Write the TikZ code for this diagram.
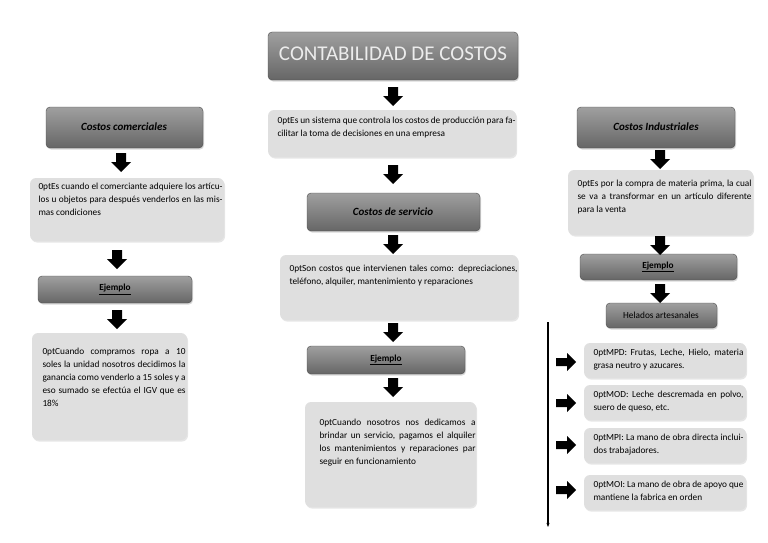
\documentclass[tikz,border=0pt]{standalone}
\usepackage{fontspec}
\setmainfont{Carlito}
\usetikzlibrary{shadows,arrows.meta}
\begin{document}
\begin{tikzpicture}[x=1pt,y=-1pt,
 dark/.style={draw=black!70,rounded corners=4pt,top color=gray!75,bottom color=gray!80!black,drop shadow={opacity=0.3,shadow xshift=1pt,shadow yshift=-1.5pt}},
 light/.style={rounded corners=6pt,fill=gray!25,drop shadow={opacity=0.2,shadow xshift=1pt,shadow yshift=-1.5pt}},
 txt/.style={font=\fontsize{9.3}{13}\selectfont\hyphenpenalty=10000\exhyphenpenalty=10000,align=justify,anchor=north west},
 pics/darr/.style={code={\fill[black] (-5,0)--(5,0)--(5,9)--(10,9)--(0,19)--(-10,9)--(-5,9)--cycle;}},
 pics/rarr/.style={code={\fill[black] (0,-4)--(11,-4)--(11,-9)--(20,0)--(11,9)--(11,4)--(0,4)--cycle;}}]
\useasboundingbox (0,0) rectangle (768,543);
% boxes
\draw[dark] (268,32) rectangle (518,80);
\node (title) at (393,54) {\fontsize{21}{24}\selectfont\color{gray!15}CONTABILIDAD DE COSTOS};
\fill[light] (268,110) rectangle (516,157);
\node[txt,text width=238pt] (def) at (274,114) {Es un sistema que controla los costos de producción para facilitar la toma de decisiones en una empresa};

\draw[dark] (46,107) rectangle (203,148);
\node (cc) at (124,127) {\fontsize{11}{13}\selectfont\bfseries\itshape Costos comerciales};
\fill[light] (30,178) rectangle (224,241);
\node[txt,text width=184pt] (cct) at (35,180) {Es cuando el comerciante adquiere los artículos u objetos para después venderlos en las mismas condiciones};
\draw[dark] (38,276) rectangle (192,303);
\node (ej1) at (115,289.5) {\fontsize{9.3}{11}\selectfont\bfseries\underline{Ejemplo}};
\fill[light] (32,333) rectangle (187,440);
\node[txt,text width=143pt] (ex1) at (39,345) {Cuando compramos ropa a 10 soles la unidad nosotros decidimos la ganancia como venderlo a 15 soles y a eso sumado se efectúa el IGV que es 18\%};

\draw[dark] (307,193) rectangle (480,231);
\node (cs) at (393,212) {\fontsize{11}{13}\selectfont\bfseries\itshape Costos de servicio};
\fill[light] (280,255) rectangle (518,320);
\node[txt,text width=228pt] (cst) at (286,262) {Son costos que intervienen tales como: depreciaciones, teléfono, alquiler, mantenimiento y reparaciones};
\draw[dark] (307,346) rectangle (465,374);
\node (ej2) at (386,360) {\fontsize{9.3}{11}\selectfont\bfseries\underline{Ejemplo}};
\fill[light] (305,402) rectangle (476,507);
\node[txt,text width=156pt] (ex2) at (316,416) {Cuando nosotros nos dedicamos a brindar un servicio, pagamos el alquiler los mantenimientos y reparaciones par seguir en funcionamiento};

\draw[dark] (577,107) rectangle (735,148);
\node (ci) at (656,127) {\fontsize{11}{13}\selectfont\bfseries\itshape Costos Industriales};
\fill[light] (568,170) rectangle (753,235);
\node[txt,text width=174pt] (cit) at (574,177) {Es por la compra de materia prima, la cual se va a transformar en un artículo diferente para la venta};
\draw[dark] (580,254) rectangle (737,280);
\node (ej3) at (658,267) {\fontsize{9.3}{11}\selectfont\bfseries\underline{Ejemplo}};
\draw[dark] (606,303) rectangle (717,328);
\node (hel) at (661,315.5) {\fontsize{9.3}{11}\selectfont Helados artesanales};
\foreach \n/\y/\t in {mpd/343/{MPD: Frutas, Leche, Hielo, materia grasa neutro y azucares.},mod/385/{MOD: Leche descremada en polvo, suero de queso, etc.},mpi/428/{MPI: La mano de obra directa incluidos trabajadores.},moi/475/{MOI: La mano de obra de apoyo que mantiene la fabrica en orden}}{
 \fill[light] (584,\y) rectangle (746,\y+35);
 \node[txt,text width=150pt] (\n) at (590,\y+3) {\t};
}
% vertical line
\coordinate (vtop) at (548,322);
\coordinate (vbot) at (548,527);
\draw[line width=2pt,-{Stealth[length=4pt]}] (vtop)--(vbot);
% arrows
\foreach \x/\y in {393/87,121/153,393/165,117/250,117/310,393/235,393/323,393/378,660/150,660/236,660/284}
 \pic at (\x,\y) {darr};
\foreach \y in {362,403,445,490} \pic at (556,\y) {rarr};
\end{tikzpicture}
\end{document}
